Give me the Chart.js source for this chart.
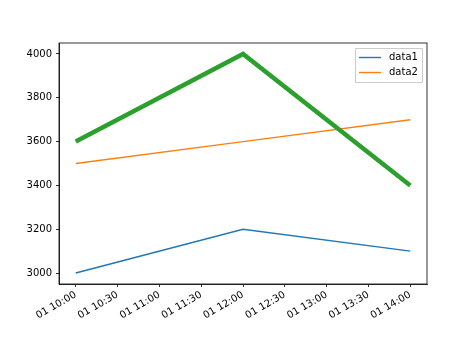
<!DOCTYPE html>
<html><head><meta charset="utf-8">
<script src="https://cdn.jsdelivr.net/npm/chart.js@4/dist/chart.umd.min.js"></script>
<style>html,body{margin:0;padding:0;background:#fff}#wrap{width:474px;height:355px}</style>
</head><body><div id="wrap"><canvas id="c" width="474" height="355"></canvas></div>
<script>
const hours = [10, 12, 14];
const data1 = [3000, 3200, 3100];
const data2 = [3500, 3600, 3700];
const data3 = [3600, 4000, 3400];
const xTicks = [10, 10.5, 11, 11.5, 12, 12.5, 13, 13.5, 14];
const yTicks = [3000, 3200, 3400, 3600, 3800, 4000];
const seriesNames = ['data1', 'data2'];

function fmt(h){const hh=Math.floor(h);const mm=Math.round((h-hh)*60);return '01 '+String(hh).padStart(2,'0')+':'+String(mm).padStart(2,'0');}
const pts = arr => arr.map((v,i)=>({x:hours[i],y:v}));
const FONT = {family:'DejaVu Sans', size:10};
Chart.defaults.font.family = 'DejaVu Sans';
Chart.defaults.color = '#000';

const frame = {
  id:'frame',
  afterDatasetsDraw(chart){
    const {ctx, chartArea:a} = chart;
    ctx.save();
    ctx.strokeStyle='#000'; ctx.lineWidth=0.8;
    ctx.strokeRect(a.left, a.top, a.right-a.left, a.bottom-a.top);
    // legend
    const w=67,h=34, x=a.right-5-w, y=a.top+5;
    ctx.fillStyle='rgba(255,255,255,0.8)';
    ctx.strokeStyle='#cccccc'; ctx.lineWidth=1;
    ctx.beginPath(); ctx.rect(x+0.5,y+0.5,w,h); ctx.fill(); ctx.stroke();
    const cols=['#1f77b4','#ff7f0e'];
    ctx.font='10px "DejaVu Sans"'; ctx.textBaseline='middle'; ctx.textAlign='left';
    seriesNames.forEach((n,i)=>{
      const yy=y+9.5+i*15;
      ctx.strokeStyle=cols[i]; ctx.lineWidth=1.4;
      ctx.beginPath(); ctx.moveTo(x+4,yy); ctx.lineTo(x+26,yy); ctx.stroke();
      ctx.fillStyle='#000'; ctx.fillText(n,x+34,yy);
    });
    ctx.restore();
  }
};

new Chart(document.getElementById('c'),{
  type:'line',
  data:{datasets:[
    {label:'data3', data:pts(data3), borderColor:'#2ca02c', borderWidth:4.5, pointRadius:0, order:0, tension:0},
    {label:seriesNames[0], data:pts(data1), borderColor:'#1f77b4', borderWidth:1.4, pointRadius:0, order:1, tension:0},
    {label:seriesNames[1], data:pts(data2), borderColor:'#ff7f0e', borderWidth:1.4, pointRadius:0, order:2, tension:0}
  ]},
  options:{
    responsive:false, animation:false, devicePixelRatio:1,
    layout:{padding:{left:0,top:43,right:47,bottom:0}},
    plugins:{legend:{display:false}, tooltip:{enabled:false}},
    scales:{
      x:{type:'linear', min:9.8, max:14.2,
        afterBuildTicks(s){s.ticks = xTicks.map(v=>({value:v}));},
        afterFit(s){s.height=71;},
        grid:{drawOnChartArea:false, drawTicks:true, tickLength:3, color:'#000', lineWidth:0.8},
        border:{display:true,color:'#000',width:0.8},
        ticks:{font:FONT, color:'#000', minRotation:30, maxRotation:30, padding:2, autoSkip:false, callback:v=>fmt(v)}
      },
      y:{type:'linear', min:2950, max:4050,
        afterBuildTicks(s){s.ticks = yTicks.map(v=>({value:v}));},
        afterFit(s){s.width=59;},
        grid:{drawOnChartArea:false, drawTicks:true, tickLength:3, color:'#000', lineWidth:0.8},
        border:{display:true,color:'#000',width:0.8},
        ticks:{font:FONT, color:'#000', padding:4, callback:v=>String(v)}
      }
    }
  },
  plugins:[frame]
});
</script></body></html>
